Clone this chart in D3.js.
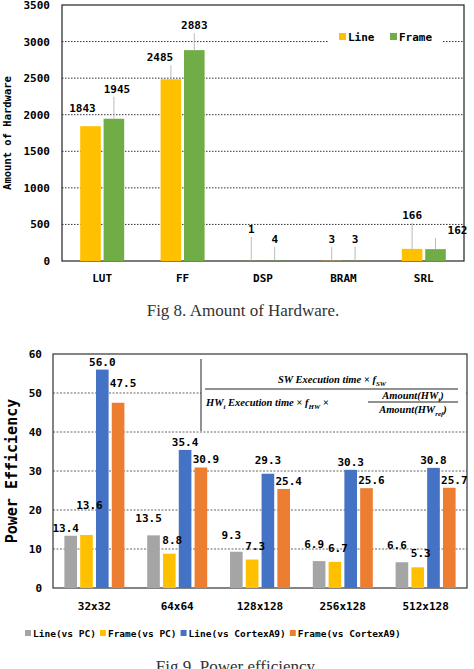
<!DOCTYPE html>
<html><head><meta charset="utf-8">
<script src="https://cdn.jsdelivr.net/npm/d3@7"></script>
<style>body{margin:0;background:#fff}</style>
</head><body><svg id="c" width="474" height="669"></svg>
<script>
const hwCats = ["LUT", "FF", "DSP", "BRAM", "SRL"];
const hwLine = [1843, 2485, 1, 3, 166];
const hwFrame = [1945, 2883, 4, 3, 162];
const hwTicks = [0, 500, 1000, 1500, 2000, 2500, 3000, 3500];

const peCats = ["32x32", "64x64", "128x128", "256x128", "512x128"];
const peSeries = ["Line(vs PC)", "Frame(vs PC)", "Line(vs CortexA9)", "Frame(vs CortexA9)"];
const peLinePC = [13.4, 13.5, 9.3, 6.9, 6.6];
const peFramePC = [13.6, 8.8, 7.3, 6.7, 5.3];
const peLineA9 = [56.0, 35.4, 29.3, 30.3, 30.8];
const peFrameA9 = [47.5, 30.9, 25.4, 25.6, 25.7];
const peTicks = [0, 10, 20, 30, 40, 50, 60];

const mono = "'DejaVu Sans Mono', monospace";
const svg = d3.select("#c");

// ---- Fig 8
{
	const x0 = d3.scaleBand().domain(hwCats).range([62, 464]);
	const x1 = d3.scaleBand().domain(["Line", "Frame"]).range([x0.bandwidth() / 2 - 22, x0.bandwidth() / 2 + 22]).paddingInner(0.12);
	const y = d3.scaleLinear().domain([0, 3500]).range([261, 5]);
	const color = { Line: "#FFC000", Frame: "#70AD47" };
	const g = svg.append("g");

	hwTicks.slice(1, -1).forEach(t => {
		g.append("line").attr("x1", 62).attr("x2", 464).attr("y1", y(t)).attr("y2", y(t))
			.attr("stroke", "#333").attr("stroke-width", 1).attr("stroke-dasharray", "1.5,1.5");
	});
	g.append("rect").attr("x", 62).attr("y", 5).attr("width", 402).attr("height", 256)
		.attr("fill", "none").attr("stroke", "#222").attr("stroke-width", 1.2);
	hwTicks.forEach(t => g.append("text").attr("x", 50).attr("y", y(t) + 4).attr("text-anchor", "end")
		.attr("font-family", mono).attr("font-weight", "bold").attr("font-size", 11).text(t));
	g.append("text").attr("transform", "translate(11,133) rotate(-90)").attr("text-anchor", "middle")
		.attr("font-family", mono).attr("font-weight", "bold").attr("font-size", 10.5).text("Amount of Hardware");

	g.append("rect").attr("x", 328).attr("y", 30).attr("width", 114).attr("height", 16).attr("fill", "#fff");
	[["Line", 339], ["Frame", 390]].forEach(([k, lx]) => {
		g.append("rect").attr("x", lx).attr("y", 33).attr("width", 7).attr("height", 7).attr("fill", color[k]);
		g.append("text").attr("x", lx + 9).attr("y", 41).attr("font-family", mono).attr("font-weight", "bold")
			.attr("font-size", 11).text(k);
	});

	const rows = [];
	hwCats.forEach((c, i) => {
		rows.push({ c, k: "Line", v: hwLine[i] });
		rows.push({ c, k: "Frame", v: hwFrame[i] });
	});
	// label offsets [dx, dy above bar]
	const lab = {
		LUT: [[-8, 14], [3, 26]], FF: [[-11, 18], [0, 21]], DSP: [[0, 28], [0, 18]],
		BRAM: [[0, 18], [0, 18]], SRL: [[0, 30], [22, 15]]
	};
	rows.forEach(d => {
		const bx = x0(d.c) + x1(d.k), bw = x1.bandwidth();
		g.append("rect").attr("x", bx).attr("y", y(d.v)).attr("width", bw).attr("height", 261 - y(d.v))
			.attr("fill", color[d.k]);
	});
	rows.forEach(d => {
		const bx = x0(d.c) + x1(d.k), bw = x1.bandwidth(), cx = bx + bw / 2;
		const [dx, off] = lab[d.c][d.k === "Line" ? 0 : 1];
		const ty = y(d.v) - off;
		if (off > 14) g.append("line").attr("x1", cx).attr("x2", cx).attr("y1", ty + 4).attr("y2", y(d.v))
			.attr("stroke", "#aaa").attr("stroke-width", 0.8);
		g.append("text").attr("x", cx + dx).attr("y", ty).attr("text-anchor", "middle").attr("font-family", mono)
			.attr("font-weight", "bold").attr("font-size", 11).text(d.v);
	});
	hwCats.forEach(c => g.append("text").attr("x", x0(c) + x0.bandwidth() / 2).attr("y", 282).attr("text-anchor", "middle")
		.attr("font-family", mono).attr("font-weight", "bold").attr("font-size", 11).text(c));
	svg.append("text").attr("x", 243).attr("y", 316).attr("text-anchor", "middle")
		.attr("font-family", "'Liberation Serif', serif").attr("font-size", 17).attr("fill", "#333").text("Fig 8. Amount of Hardware.");
}

// ---- Fig 9
{
	const top = 354, bot = 588, L = 53, R = 467;
	const x0 = d3.scaleBand().domain(peCats).range([L, R]);
	const x1 = d3.scaleBand().domain(peSeries).range([x0.bandwidth() / 2 - 30, x0.bandwidth() / 2 + 30]).paddingInner(0.2);
	const y = d3.scaleLinear().domain([0, 60]).range([bot, top]);
	const colors = ["#A5A5A5", "#FFC000", "#4472C4", "#ED7D31"];
	const vals = [peLinePC, peFramePC, peLineA9, peFrameA9];
	const g = svg.append("g");

	peTicks.slice(1, -1).forEach(t => g.append("line").attr("x1", L).attr("x2", R).attr("y1", y(t)).attr("y2", y(t))
		.attr("stroke", "#555").attr("stroke-dasharray", "2,1.5").attr("stroke-width", 0.9));
	g.append("rect").attr("x", 201).attr("y", 359).attr("width", 264).attr("height", 70).attr("fill", "#fff");
	g.append("line").attr("x1", 201).attr("x2", 201).attr("y1", 359).attr("y2", 431).attr("stroke", "#222");
	g.append("rect").attr("x", L).attr("y", top).attr("width", R - L).attr("height", bot - top)
		.attr("fill", "none").attr("stroke", "#333").attr("stroke-width", 1.2);

	// formula, subscripts via tspans
	const serif = "'Liberation Serif', serif";
	const ft = (x, yy, anchor, parts) => {
		const t = g.append("text").attr("x", x).attr("y", yy).attr("text-anchor", anchor)
			.attr("font-family", serif).attr("font-style", "italic").attr("font-weight", "bold").attr("font-size", 10.5);
		parts.forEach(([s, sub]) => {
			const sp = t.append("tspan").text(s);
			if (sub) sp.attr("font-size", 7).attr("dy", 3);
			else if (t.selectAll("tspan").size() > 1) sp.attr("dy", 0);
		});
		// reset baselines after subscripts
		let shift = 0;
		t.selectAll("tspan").each(function () {
			const isSub = this.getAttribute("font-size") === "7";
			const want = isSub ? 3 : 0;
			this.setAttribute("dy", want - shift);
			shift = want;
		});
	};
	ft(332, 383, "middle", [["SW Execution time  × f"], ["SW", 1]]);
	g.append("line").attr("x1", 205).attr("x2", 458).attr("y1", 389).attr("y2", 389).attr("stroke", "#222");
	ft(206, 406, "start", [["HW"], ["i", 1], [" Execution time  × f"], ["HW", 1], [" ×"]]);
	ft(413, 399, "middle", [["Amount(HW"], ["i", 1], [")"]]);
	g.append("line").attr("x1", 368).attr("x2", 458).attr("y1", 402).attr("y2", 402).attr("stroke", "#222");
	ft(413, 413, "middle", [["Amount(HW"], ["ref", 1], [")"]]);

	peTicks.forEach(t => g.append("text").attr("x", 42).attr("y", y(t) + 4).attr("text-anchor", "end")
		.attr("font-family", mono).attr("font-weight", "bold").attr("font-size", 11).text(t));
	g.append("text").attr("transform", "translate(17,471) rotate(-90)").attr("text-anchor", "middle")
		.attr("font-family", mono).attr("font-weight", "bold").attr("font-size", 15).text("Power Efficiency");

	peCats.forEach((c, i) => {
		vals.forEach((arr, s) => {
			const bx = x0(c) + x1(peSeries[s]), bw = x1.bandwidth(), v = arr[i];
			g.append("rect").attr("x", bx).attr("y", y(v)).attr("width", bw).attr("height", bot - y(v)).attr("fill", colors[s]);
		});
	});
	peCats.forEach((c, i) => {
		vals.forEach((arr, s) => {
			const bx = x0(c) + x1(peSeries[s]), bw = x1.bandwidth(), v = arr[i];
			let tx = bx + bw / 2, ty = y(v) - 4;
			if (s === 0) { tx -= 5; ty = y(v) - (i === 0 ? 4 : 13); }
			if (s === 1) { tx += 3; ty = y(v) - (i === 0 ? 26 : 10); }
			if (s === 2) { ty = y(v) - (i === 2 ? 10 : 4); }
			if (s === 3) { tx += 5; ty = y(v) - (i === 0 ? 16 : 4); }
			g.append("text").attr("x", tx).attr("y", ty).attr("text-anchor", "middle").attr("font-family", mono)
				.attr("font-weight", "bold").attr("font-size", 11).text(v.toFixed(1));
		});
		g.append("text").attr("x", x0(c) + x0.bandwidth() / 2).attr("y", 610).attr("text-anchor", "middle")
			.attr("font-family", mono).attr("font-weight", "bold").attr("font-size", 11).text(c);
	});

	let lx = 25;
	peSeries.forEach((s, i) => {
		g.append("rect").attr("x", lx).attr("y", 630).attr("width", 6).attr("height", 6).attr("fill", colors[i]);
		const t = g.append("text").attr("x", lx + 8).attr("y", 637).attr("font-family", mono).attr("font-weight", "bold")
			.attr("font-size", 9.5).text(s);
		lx += 8 + t.node().getComputedTextLength() + 4;
	});
	svg.append("text").attr("x", 237).attr("y", 672).attr("text-anchor", "middle")
		.attr("font-family", "'Liberation Serif', serif").attr("font-size", 17).attr("fill", "#333").text("Fig 9. Power efficiency.");
}
</script></body></html>
